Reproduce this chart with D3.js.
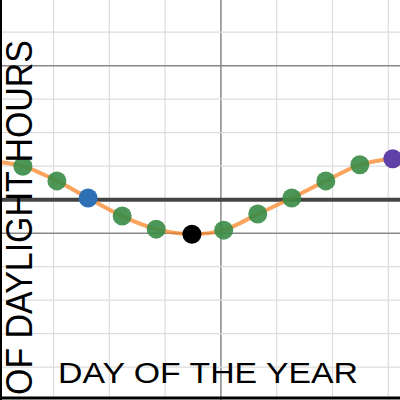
<!DOCTYPE html>
<html><head><meta charset="utf-8">
<script src="https://cdn.jsdelivr.net/npm/d3@7"></script>
<style>body{margin:0;background:#fff}svg{display:block}</style>
</head><body><div id="chart"></div>
<script>
// points in grid units (x: day step, y: hours offset)
const dayX = [-3.55, -2.94, -2.38, -1.77, -1.16, -0.52, 0.05, 0.66, 1.27, 1.88, 2.49, 3.08];
const hoursY = [2.0, 1.56, 1.05, 0.51, 0.12, -0.03, 0.09, 0.57, 1.05, 1.56, 2.04, 2.22];
const pointColors = ["green", "green", "blue", "green", "green", "black", "green", "green", "green", "green", "green", "purple"];
const curveX = [-3.96, -3.55, -2.94, -2.38, -1.77, -1.16, -0.52, 0.05, 0.66, 1.27, 1.88, 2.49, 3.08, 3.2];
const curveY = [2.12, 2.0, 1.56, 1.05, 0.51, 0.12, -0.03, 0.09, 0.57, 1.05, 1.56, 2.04, 2.22, 2.23];
const meanLine = 1.0;

const palette = { green: "#388c46", blue: "#2d70b3", black: "#000000", purple: "#6042a6" };
const width = 400, height = 400;

const x = d3.scaleLinear().domain([-3.96, 3.21]).range([0, width]);
const y = d3.scaleLinear().domain([-4.98, 6.96]).range([height, 0]);

const svg = d3.select("#chart").append("svg")
    .attr("width", width).attr("height", height);

// grid
d3.range(-4, 4).forEach(v => {
    svg.append("line").attr("x1", x(v)).attr("x2", x(v)).attr("y1", 0).attr("y2", height)
        .attr("stroke", v === 0 ? "#888" : "#ddd").attr("stroke-width", v === 0 ? 1.5 : 1.2);
});
d3.range(-5, 8).forEach(v => {
    svg.append("line").attr("x1", 0).attr("x2", width).attr("y1", y(v)).attr("y2", y(v))
        .attr("stroke", v % 5 === 0 ? "#888" : "#ddd").attr("stroke-width", v % 5 === 0 ? 1.5 : 1.2);
});

svg.append("line").attr("x1", 0).attr("x2", width)
    .attr("y1", y(meanLine)).attr("y2", y(meanLine))
    .attr("stroke", "#444").attr("stroke-width", 4);

const line = d3.line().x(d => x(d[0])).y(d => y(d[1])).curve(d3.curveCatmullRom);
svg.append("path").datum(d3.zip(curveX, curveY))
    .attr("d", line).attr("fill", "none")
    .attr("stroke", "#fa7e19").attr("stroke-opacity", 0.7).attr("stroke-width", 4);

svg.selectAll(".pt").data(d3.zip(dayX, hoursY, pointColors)).enter()
    .append("circle")
    .attr("cx", d => x(d[0])).attr("cy", d => y(d[1])).attr("r", 9.5)
    .attr("fill", d => palette[d[2]]).attr("fill-opacity", d => d[2] === "green" ? 0.9 : 1);

svg.append("text").attr("x", 58).attr("y", 383)
    .attr("textLength", 300).attr("lengthAdjust", "spacingAndGlyphs")
    .style("font-family", "Liberation Sans, Arial").style("font-size", "29px")
    .text("DAY OF THE YEAR");

svg.append("text").attr("transform", "translate(32,395) rotate(-90)")
    .attr("textLength", 355).attr("lengthAdjust", "spacingAndGlyphs")
    .style("font-family", "Liberation Sans, Arial").style("font-size", "36px")
    .text("OF DAYLIGHT HOURS");

// frame
svg.append("line").attr("x1", 1).attr("x2", 1).attr("y1", 0).attr("y2", height).attr("stroke", "#000").attr("stroke-width", 2);
svg.append("line").attr("x1", 0).attr("x2", width).attr("y1", 398).attr("y2", 398).attr("stroke", "#000").attr("stroke-width", 3);
</script></body></html>
